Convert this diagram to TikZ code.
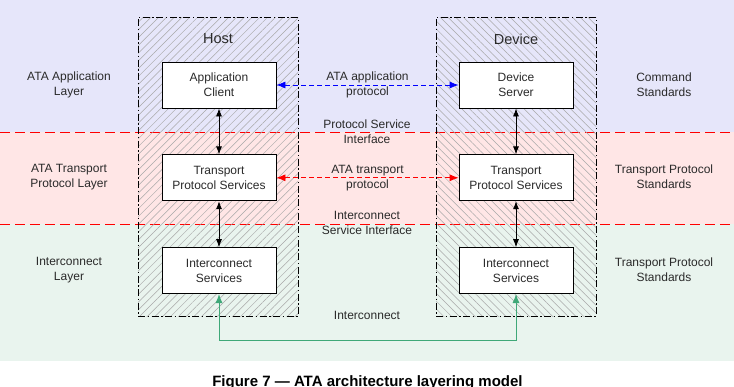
\documentclass[tikz,border=0pt]{standalone}
\usepackage{fontspec}
\setmainfont{Liberation Sans}
\usetikzlibrary{arrows.meta,positioning,patterns.meta}
\definecolor{AppBand}{HTML}{E6E6FA}
\definecolor{TransBand}{HTML}{FFE6E6}
\definecolor{LinkBand}{HTML}{E9F4EE}
\definecolor{Hatch}{HTML}{A8A8A8}
\definecolor{Link}{HTML}{3FA878}
\definecolor{Ink}{HTML}{2A2A2A}
\tikzset{
  layer/.style={draw=black,fill=white,line width=.8pt,minimum width=114pt,
    minimum height=46pt,align=center,text=Ink,font=\fontsize{12}{15}\selectfont},
  note/.style={align=center,text=Ink,font=\fontsize{12}{15}\selectfont},
  title/.style={text=Ink,font=\fontsize{14.5}{17}\selectfont},
  sidebox/.style={draw=black,line width=.8pt,minimum width=160pt,minimum height=299pt,
    dash pattern=on 7pt off 2.5pt on 1.5pt off 2.5pt,pattern color=Hatch},
  seam/.style={draw=red,line width=1pt,dash pattern=on 10pt off 5pt},
  biarrow/.style={{Latex[length=8pt,width=6pt]}-{Latex[length=8pt,width=6pt]},line width=.8pt},
  apparrow/.style={{Latex[length=9pt,width=7pt]}-{Latex[length=9pt,width=7pt]},draw=blue,
    line width=.8pt,dash pattern=on 5pt off 3pt},
  transarrow/.style={apparrow,draw=red},
  linkarrow/.style={{Latex[length=9pt,width=7pt]}-{Latex[length=9pt,width=7pt]},draw=Link,
    line width=1pt}
}
\begin{document}
\begin{tikzpicture}[x=1pt,y=-1pt,node distance=46pt]
    \useasboundingbox (0,0) rectangle (734,386);
    % layer bands
    \fill[AppBand] (0,0) rectangle (734,132);
    \fill[TransBand] (0,132) rectangle (734,224);
    \fill[LinkBand] (0,224) rectangle (734,361);
    \draw[seam] (0,132) -- (734,132);
    \draw[seam] (0,224) -- (734,224);
    % host and device
    \node[sidebox,pattern={Lines[angle=45,distance=5.5pt,line width=.5pt]}] (host) at (218,166.5) {};
    \node[sidebox,pattern={Lines[angle=-45,distance=5.5pt,line width=.5pt]}] (dev) at (516,166.5) {};
    \node[title] at (218,39) {Host};
    \node[title] at (516,39) {Device};
    \node[layer] (h1) at (219,85) {Application\\Client};
    \node[layer,below=of h1] (h2) {Transport\\Protocol Services};
    \node[layer,below=of h2] (h3) {Interconnect\\Services};
    \node[layer] (d1) at (516,85) {Device\\Server};
    \node[layer,below=of d1] (d2) {Transport\\Protocol Services};
    \node[layer,below=of d2] (d3) {Interconnect\\Services};
    \draw[biarrow] (h1) -- (h2); \draw[biarrow] (h2) -- (h3);
    \draw[biarrow] (d1) -- (d2); \draw[biarrow] (d2) -- (d3);
    \draw[apparrow] (h1) -- node[note]{ATA application\\protocol} (d1);
    \draw[transarrow] (h2) -- node[note]{ATA transport\\protocol} (d2);
    \draw[linkarrow] (h3.south) -- ++(0,46) -| (d3.south);
    % interface labels
    \node[note] at (367,132) {Protocol Service\\Interface};
    \node[note] at (367,223) {Interconnect\\Service Interface};
    \node[note] at (367,315) {Interconnect};
    % side labels
    \node[note] at (69,85) {ATA Application\\Layer};
    \node[note] at (69,177) {ATA Transport\\Protocol Layer};
    \node[note] at (69,270) {Interconnect\\Layer};
    \node[note] at (664,85) {Command\\Standards};
    \node[note] at (664,177) {Transport Protocol\\Standards};
    \node[note] at (664,270) {Transport Protocol\\Standards};
    \node[anchor=base,font=\fontsize{15}{18}\selectfont\bfseries] at (367.5,386) {Figure 7 — ATA architecture layering model};
  \end{tikzpicture}
\end{document}
